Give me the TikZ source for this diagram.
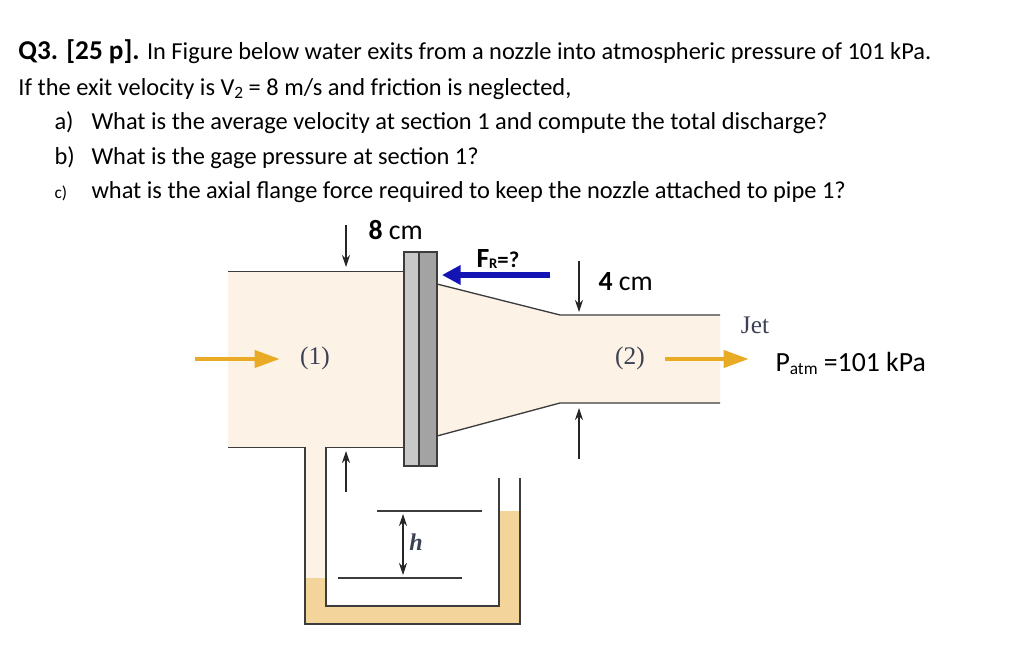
\documentclass[tikz,border=0pt]{standalone}
\usepackage{fontspec}
\setmainfont{Carlito}
\newfontfamily\figfont{Liberation Serif}
\usetikzlibrary{arrows.meta}
\definecolor{waterc}{RGB}{253,242,230}
\definecolor{gagec}{RGB}{243,213,155}
\definecolor{flowc}{RGB}{233,170,38}
\definecolor{forcec}{RGB}{20,20,180}
\definecolor{wallc}{RGB}{60,60,60}
\definecolor{figtextc}{RGB}{60,66,84}
\newcommand{\lowtext}[1]{\raisebox{-0.12em}{\fontsize{13}{15}\selectfont #1}}
\tikzset{every picture/.style={line width=0.75pt},
	wall/.style={color=wallc,line width=1pt},
	dimarrow/.style={color=black!85,line width=0.8pt,-{Stealth[length=9pt,width=6pt]}},
	flowarrow/.style={color=flowc,line width=3.6pt,-{Triangle[length=19pt,width=12.5pt]}},
	question/.style={anchor=base west,inner sep=0pt,font=\fontsize{18.3}{21}\selectfont},
	dimlabel/.style={anchor=base west,inner sep=0pt,font=\fontsize{20.8}{24}\selectfont},
	figlabel/.style={inner sep=0pt,text=figtextc,font=\figfont\fontsize{19}{22}\selectfont}}

\begin{document}
\begin{tikzpicture}[x=0.75pt,y=0.75pt,yscale=-1,xscale=1]
	\useasboundingbox (0,0) rectangle (1024,659);

	%Water in pipe and nozzle
	\fill [waterc] (228,271.5) -- (404,271.5) -- (437,284) -- (560,315) -- (720,315) -- (720,403) -- (560,403) -- (437,436) -- (404,447.5) -- (326,447.5) -- (326,578) -- (305,578) -- (305,447.5) -- (228,447.5) -- cycle ;
	%Gage fluid
	\fill [gagec] (305,578) -- (326,578) -- (326,606) -- (499,606) -- (499,511) -- (520,511) -- (520,624) -- (305,624) -- cycle ;

	%Walls
	\draw [wall] (228,271.5) -- (404,271.5) ;
	\draw [wall] (228,447.5) -- (305,447.5) -- (305,624) -- (520,624) -- (520,478) ;
	\draw [wall] (404,447.5) -- (326,447.5) -- (326,606) -- (499,606) -- (499,478) ;
	\draw [wall] (437,284) -- (560,315) -- (720,315) ;
	\draw [wall] (437,436) -- (560,403) -- (720,403) ;

	%Flange
	\draw [wall,fill={rgb,255:red,200;green,200;blue,200}] (404,252) rectangle (419,466) ;
	\draw [wall,fill={rgb,255:red,163;green,163;blue,163}] (419,252) rectangle (437,466) ;

	%Dimension arrows
	\draw [dimarrow] (346,225) -- (346,267) ;
	\draw [dimarrow] (346,492) -- (346,451) ;
	\draw [dimarrow] (579,261) -- (579,312) ;
	\draw [dimarrow] (579,459) -- (579,408) ;
	\draw [dimarrow,{Stealth[length=9pt,width=6pt]}-{Stealth[length=9pt,width=6pt]}] (403,514) -- (403,575) ;

	%Levels of h
	\draw [wall] (377,511) -- (482,511) ;
	\draw [wall] (338,578) -- (462,578) ;

	%Flow and force arrows
	\draw [flowarrow] (195,359) -- (280,359) ;
	\draw [flowarrow] (665,359) -- (749,359) ;
	\draw [color=forcec,line width=4.6pt,-{Triangle[length=14pt,width=14pt]}] (550,275) -- (442,275) ;

	% Text Node
	\node (q1) [question] at (18,59.5) {\textbf{\fontsize{20.4}{24}\selectfont Q3. [25 p].} In Figure below water exits from a nozzle into atmospheric pressure of 101 kPa.};
	\node (q2) [question] at (18,96) {If the exit velocity is V\lowtext{2} = 8 m/s and friction is neglected,};
	\node (qa) [question] at (54,130) {a)};
	\node (qat) [question] at (91,130) {What is the average velocity at section 1 and compute the total discharge?};
	\node (qb) [question] at (54,164.5) {b)};
	\node (qbt) [question] at (91,164.5) {What is the gage pressure at section 1?};
	\node (qc) [question,font=\fontsize{13}{15}\selectfont] at (54,199) {c)};
	\node (qct) [question] at (91,199) {what is the axial flange force required to keep the nozzle attached to pipe 1?};
	\node (d1) [dimlabel] at (368,240) {\textbf{8} cm};
	\node (d2) [dimlabel] at (598,291) {\textbf{4} cm};
	\node (fr) [dimlabel] at (476,267.5) {\textbf{F\raisebox{-0.05em}{\fontsize{11}{13}\selectfont R}\fontsize{17}{20}\selectfont =?}};
	\node (patm) [dimlabel] at (775,371) {P\lowtext{atm} =101 kPa};
	\node (sec1) [figlabel] at (315,358) {(1)};
	\node (sec2) [figlabel] at (630,358) {(2)};
	\node (jet) [figlabel] at (755,325) {Jet};
	\node (hlabel) [figlabel,font=\figfont\bfseries\itshape\fontsize{18}{21}\selectfont] at (416,542) {h};
\end{tikzpicture}
\end{document}
